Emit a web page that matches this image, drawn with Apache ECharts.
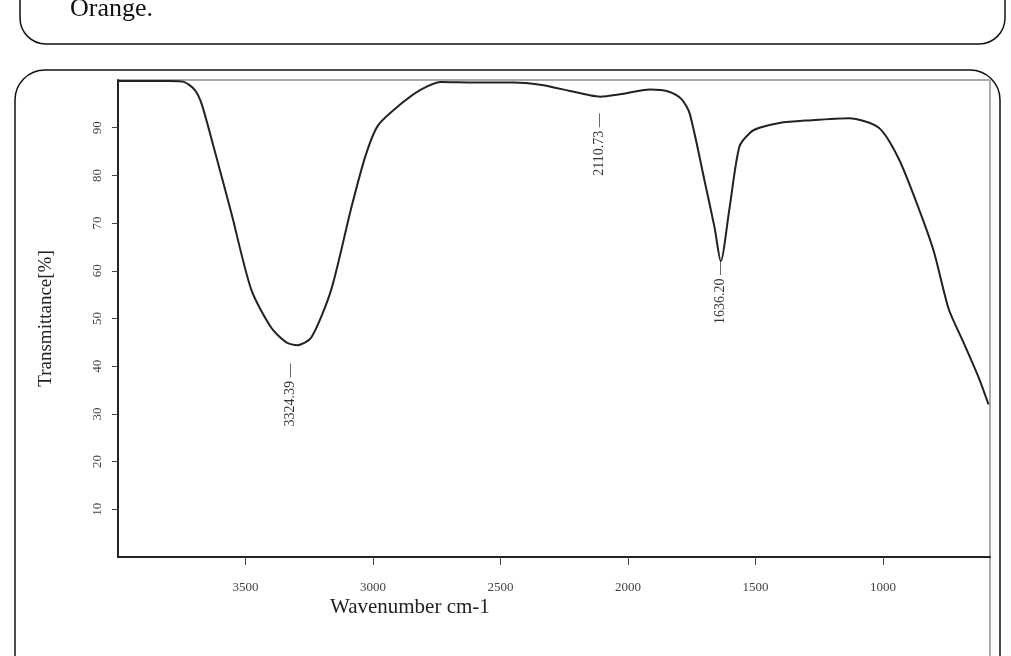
<!DOCTYPE html>
<html>
<head>
    <meta charset="utf-8">
    <title>FTIR</title>
    <script src="https://cdn.jsdelivr.net/npm/echarts@6/dist/echarts.min.js"></script>
    <style>
        html, body { margin: 0; padding: 0; background: #fff; }
        #chart { width: 1011px; height: 656px; }
    </style>
</head>
<body>
    <div id="chart"></div>
    <script>
        // wavenumber (cm-1) and transmittance (%)
        const wavenumbers = [4000, 3900, 3800, 3742, 3700, 3672, 3620, 3555, 3477, 3398, 3340, 3297, 3242, 3164, 3086, 3030, 2980, 2890, 2812, 2734, 2600, 2450, 2344, 2227, 2150, 2109, 2031, 1914, 1836, 1790, 1758, 1700, 1660, 1636, 1602, 1563, 1520, 1484, 1406, 1300, 1133, 1016, 938, 859, 800, 742, 684, 625, 586];
        const transmittance = [99.8, 99.8, 99.8, 99.6, 98, 95, 85, 72, 56, 48, 45, 44.4, 46, 56, 73, 84, 90.5, 95, 98, 99.6, 99.5, 99.5, 99, 97.7, 96.8, 96.5, 97, 98, 97.5, 96, 93, 79, 69, 62, 73, 86, 89, 90, 91, 91.5, 92, 90, 83.5, 73, 64, 52, 45, 37.7, 32];
        const peakPos = [3324.39, 2110.73, 1636.20];
        const peakLabelY = [32.5, 85, 54];
        const peakText = ['3324.39 —', '2110.73 —', '1636.20 —'];
        const yTicks = [10, 20, 30, 40, 50, 60, 70, 80, 90];
        const xTicks = [3500, 3000, 2500, 2000, 1500, 1000];

        const serif = 'Liberation Serif';
        const chart = echarts.init(document.getElementById('chart'));
        const lineData = wavenumbers.map((w, i) => [w, transmittance[i]]);

        chart.setOption({
            animation: false,
            backgroundColor: '#fff',
            grid: { left: 118, right: 21, top: 80, bottom: 99 },
            xAxis: {
                type: 'value', inverse: true, min: 580, max: 4000,
                axisLine: { lineStyle: { color: '#222', width: 2 } },
                axisTick: { show: true, length: 8, customValues: xTicks, lineStyle: { color: '#444' } },
                splitLine: { show: false },
                axisLabel: { color: '#444', fontFamily: serif, fontSize: 13, margin: 24, customValues: xTicks, formatter: v => String(v) }
            },
            yAxis: {
                type: 'value', min: 0, max: 100,
                axisLine: { show: true, lineStyle: { color: '#222', width: 2 } },
                axisTick: { show: true, length: 6, customValues: yTicks, lineStyle: { color: '#444' } },
                splitLine: { show: false },
                name: 'Transmittance[%]', nameLocation: 'middle', nameGap: 62, nameRotate: 90,
                nameTextStyle: { fontFamily: serif, fontSize: 19, color: '#222' },
                axisLabel: { color: '#444', fontFamily: serif, fontSize: 13, rotate: 90, margin: 14, customValues: yTicks }
            },
            series: [{
                type: 'line', data: lineData, smooth: 0.25, symbol: 'none',
                lineStyle: { color: '#222', width: 2 },
                markPoint: {
                    symbol: 'circle', symbolSize: 1,
                    itemStyle: { color: 'rgba(0,0,0,0)' },
                    data: peakPos.map((p, i) => ({
                        coord: [p, peakLabelY[i]],
                        label: {
                            show: true, formatter: peakText[i], rotate: 90,
                            fontFamily: serif, fontSize: 14, color: '#333',
                            position: 'inside', offset: [7, 0]
                        }
                    }))
                }
            }],
            graphic: [
                { type: 'rect', shape: { x: 20, y: -60, width: 985, height: 104, r: 26 },
                  style: { fill: 'none', stroke: '#111', lineWidth: 1.5 } },
                { type: 'text', left: 70, top: -4,
                  style: { text: 'Orange.', font: '26px "Liberation Serif"', fill: '#111' } },
                { type: 'rect', shape: { x: 15, y: 70, width: 985, height: 640, r: 30 },
                  style: { fill: 'none', stroke: '#111', lineWidth: 1.5 } },
                { type: 'line', shape: { x1: 118, y1: 80, x2: 990, y2: 80 },
                  style: { stroke: '#aaa', lineWidth: 2 } },
                { type: 'line', shape: { x1: 990, y1: 80, x2: 990, y2: 656 },
                  style: { stroke: '#aaa', lineWidth: 2 } },
                { type: 'text', left: 330, top: 597,
                  style: { text: 'Wavenumber cm-1', font: '21px "Liberation Serif"', fill: '#222' } }
            ]
        });
    </script>
</body>
</html>
